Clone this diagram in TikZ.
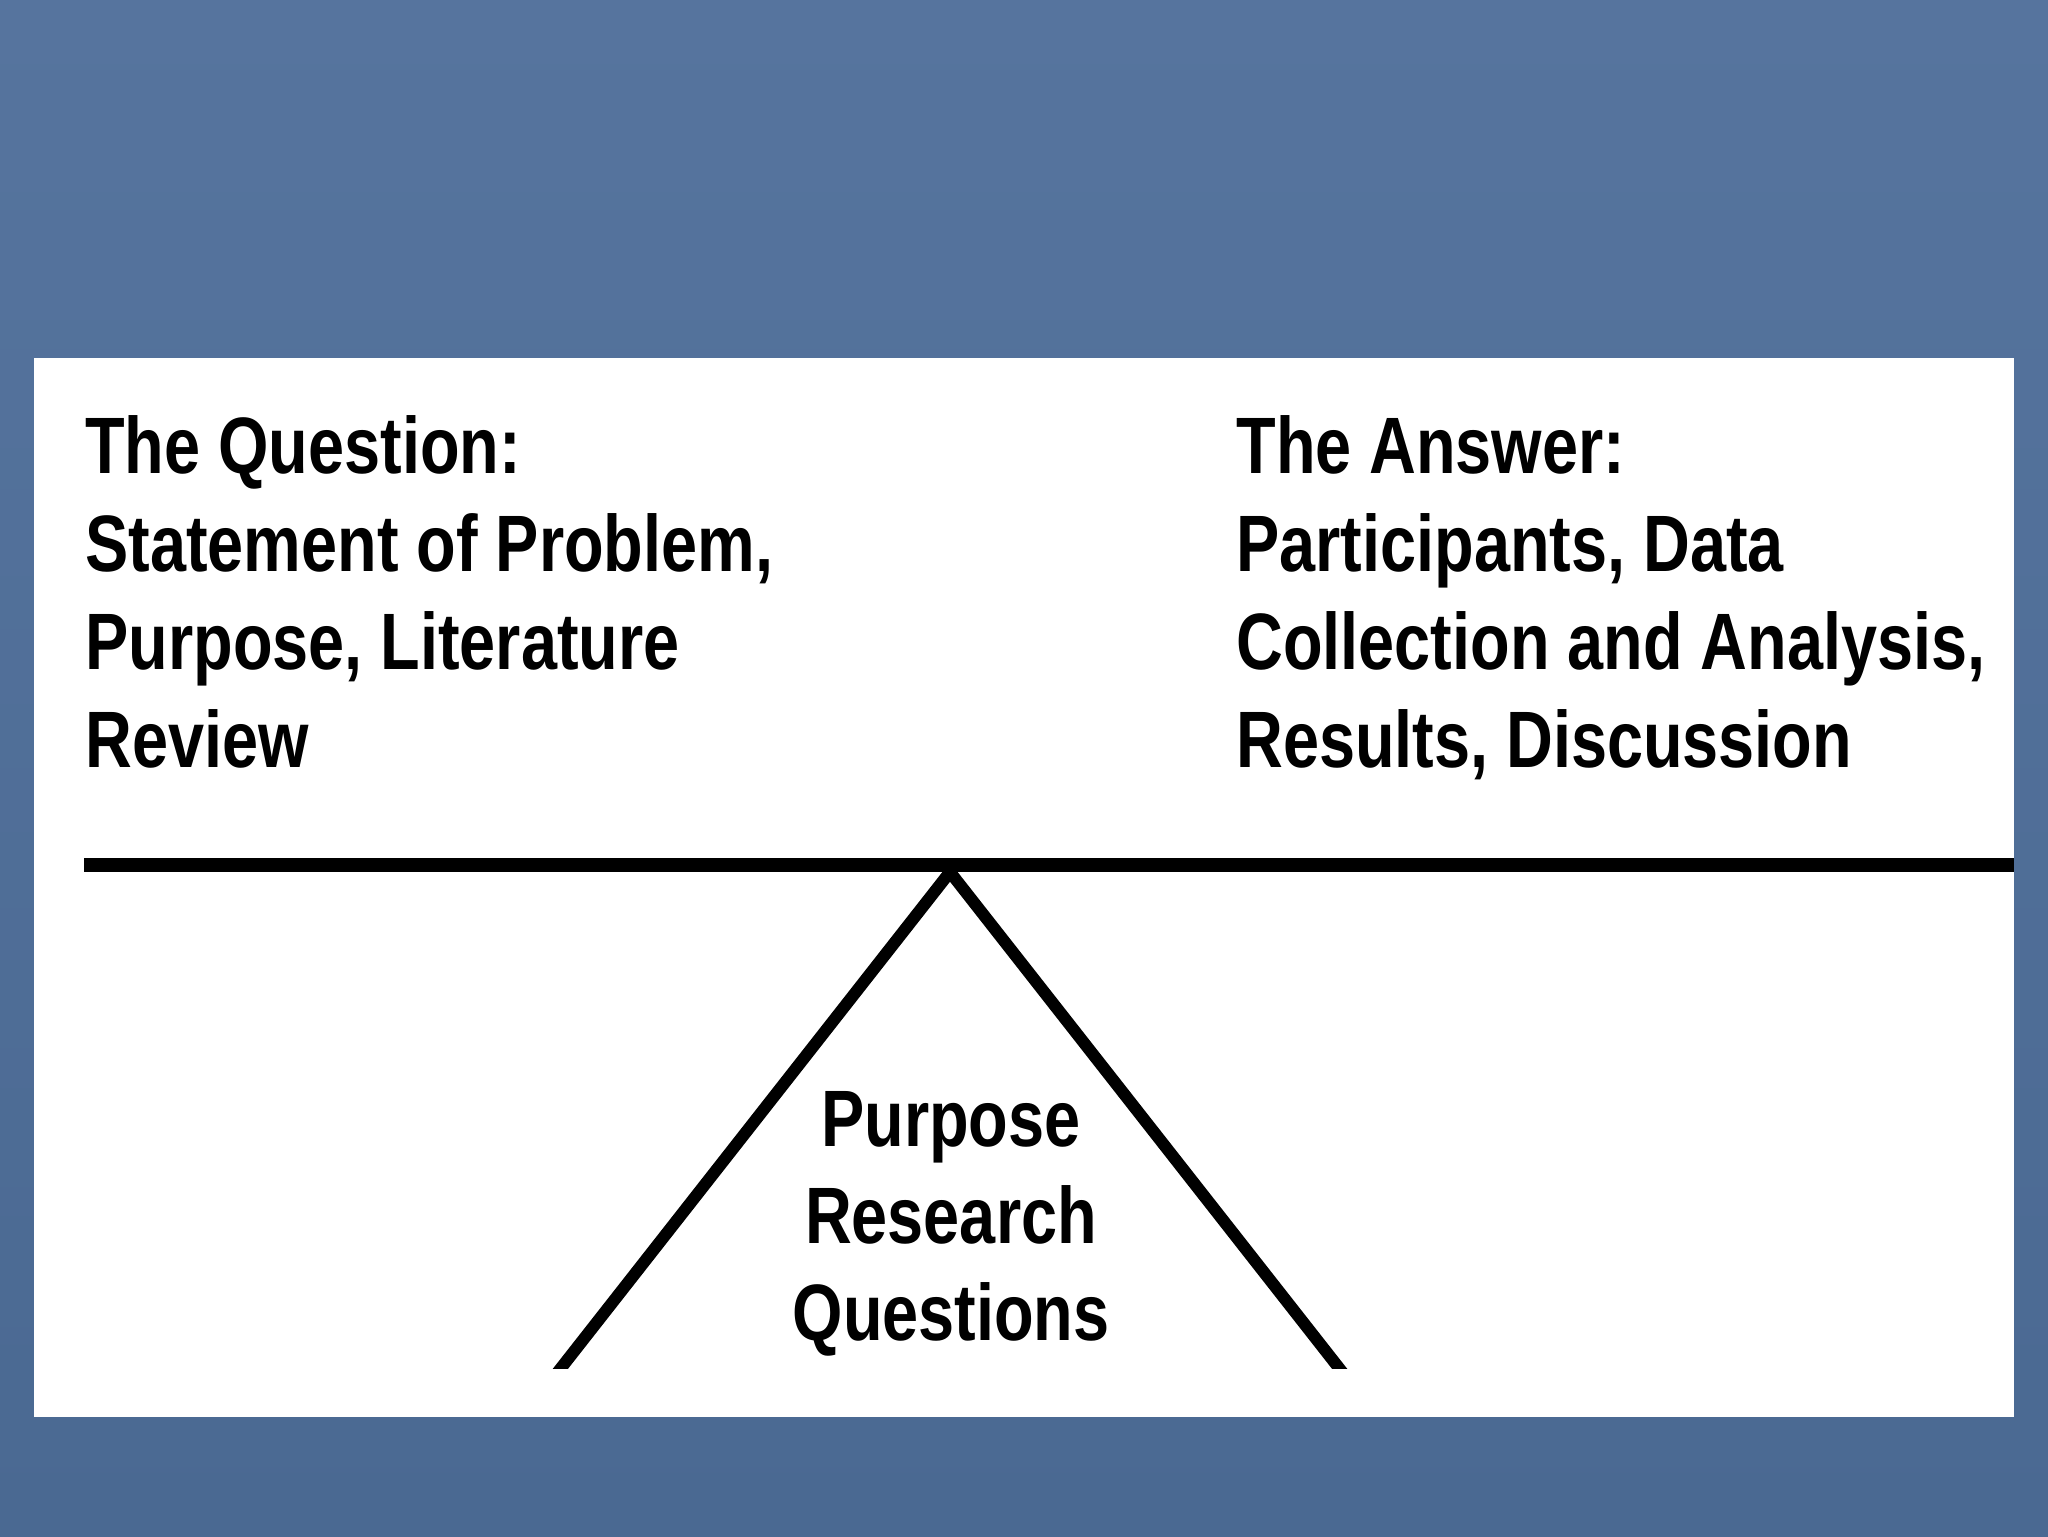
\documentclass[tikz,border=0pt]{standalone}
\usepackage{fontspec}
\newfontfamily\narrowsans[FakeStretch=0.81]{Liberation Sans}
\definecolor{bgtop}{RGB}{86,116,158}
\definecolor{bgbot}{RGB}{74,105,146}
\tikzset{
  txt/.style={anchor=base west, inner sep=0pt, font=\narrowsans\bfseries\fontsize{40}{48}\selectfont},
  ctxt/.style={anchor=base, inner sep=0pt, font=\narrowsans\bfseries\fontsize{40}{48}\selectfont},
  beam/.style={line width=7pt, black},
  fulcrum/.style={line width=6pt, black, line join=miter}
}
\begin{document}
\begin{tikzpicture}[x=0.5pt,y=-0.5pt]
\useasboundingbox (0,0) rectangle (2048,1536);
\shade[top color=bgtop, bottom color=bgbot] (0,0) rectangle (2048,1536);
\fill[white] (34,358) rectangle (2014,1417);
% text blocks
\node[txt] (q1) at (85,473) {The Question:};
\node[txt] (q2) at (85,571) {Statement of Problem,};
\node[txt] (q3) at (85,669) {Purpose, Literature};
\node[txt] (q4) at (85,767) {Review};
\node[txt] (a1) at (1236,473) {The Answer:};
\node[txt] (a2) at (1236,571) {Participants, Data};
\node[txt] (a3) at (1236,669) {Collection and Analysis,};
\node[txt] (a4) at (1236,767) {Results, Discussion};
\node[ctxt] (p1) at (951,1146) {Purpose};
\node[ctxt] (p2) at (951,1243) {Research};
\node[ctxt] (p3) at (951,1340) {Questions};
% fulcrum
\coordinate (apex) at (950,872);
\coordinate (lfoot) at (551.6,1380);
\coordinate (rfoot) at (1348.4,1380);
\begin{scope}
\clip (0,0) rectangle (2048,1368);
\draw[fulcrum] (lfoot) -- (apex) -- (rfoot);
\end{scope}
% beam
\coordinate (bl) at (84,865);
\coordinate (br) at (2014,865);
\draw[beam] (bl) -- (br);
\end{tikzpicture}
\end{document}
